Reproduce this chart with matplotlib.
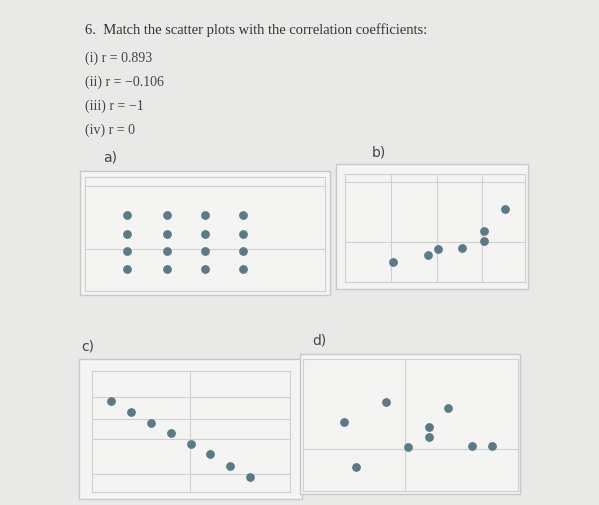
import matplotlib
matplotlib.use("Agg")
import matplotlib.pyplot as plt
from matplotlib.patches import Rectangle

W, H = 599, 506
# Scatter data (arbitrary 0-100 units within each panel)
a_x = [17.5]*4 + [34]*4 + [50]*4 + [66]*4
a_y = [67, 50, 35, 19]*4
b_x = [26.7, 46, 51.7, 65, 77, 77, 89]
b_y = [18.5, 25, 30.5, 31.5, 38, 47, 67.6]
c_x = [9.6, 19.7, 29.8, 39.9, 50, 59.6, 69.7, 79.8]
c_y = [75, 66, 57, 49, 40, 31, 21.5, 12.4]
d_x = [19, 24.7, 38.6, 48.8, 58.6, 58.6, 67.4, 78.6, 88]
d_y = [52, 18, 67.4, 33, 48.5, 41, 63, 34, 34]

items = ["(i) r = 0.893", "(ii) r = \u22120.106", "(iii) r = \u22121", "(iv) r = 0"]

fig = plt.figure(figsize=(W/100, H/100), dpi=100)
fig.patch.set_facecolor("#e9e9e7")
bg = fig.add_axes([0, 0, 1, 1]); bg.set_xlim(0, W); bg.set_ylim(H, 0); bg.axis("off")

bg.text(85, 30, "6.  Match the scatter plots with the correlation coefficients:", fontsize=10.5,
        family="Liberation Serif", color="#333", va="center")
for i, t in enumerate(items):
    bg.text(85, 58 + 24*i, t, fontsize=10, family="Liberation Serif", color="#444", va="center")
for lab, x, y in [("a)", 103, 157), ("b)", 372, 152), ("c)", 81, 347), ("d)", 312, 340)]:
    bg.text(x, y, lab, fontsize=10, color="#444", va="center")

# outer boxes
for (x0, y0, x1, y1) in [(80, 172, 330, 296), (336, 165, 528, 290), (79, 360, 302, 500), (300, 355, 520, 495)]:
    bg.add_patch(Rectangle((x0, y0), x1-x0, y1-y0, facecolor="#f4f4f2", edgecolor="#c8c8c8", lw=1))

def panel(px, xs, ys, vl, hl):
    x0, y0, x1, y1 = px
    ax = fig.add_axes([x0/W, 1-y1/H, (x1-x0)/W, (y1-y0)/H])
    ax.set_xlim(0, 100); ax.set_ylim(0, 100)
    ax.set_facecolor("none")
    for s in ax.spines.values():
        s.set_color("#cfcfcf"); s.set_linewidth(0.8)
    ax.set_xticks([]); ax.set_yticks([])
    for v in vl: ax.axvline(v, color="#d0d0d0", lw=0.8)
    for h in hl: ax.axhline(h, color="#d0d0d0", lw=0.8)
    ax.scatter(xs, ys, s=28, color="#5b7a86", zorder=3)

panel((85, 178, 325, 292), a_x, a_y, [], [92, 37])
panel((345, 175, 525, 283), b_x, b_y, [25.5, 51, 76], [92.6, 37])
panel((92, 372, 290, 493), c_x, c_y, [49.5], [78.5, 60, 44, 15])
panel((303, 360, 518, 492), d_x, d_y, [47.4], [31.8])

fig.savefig("out.png", dpi=100, facecolor=fig.get_facecolor())
